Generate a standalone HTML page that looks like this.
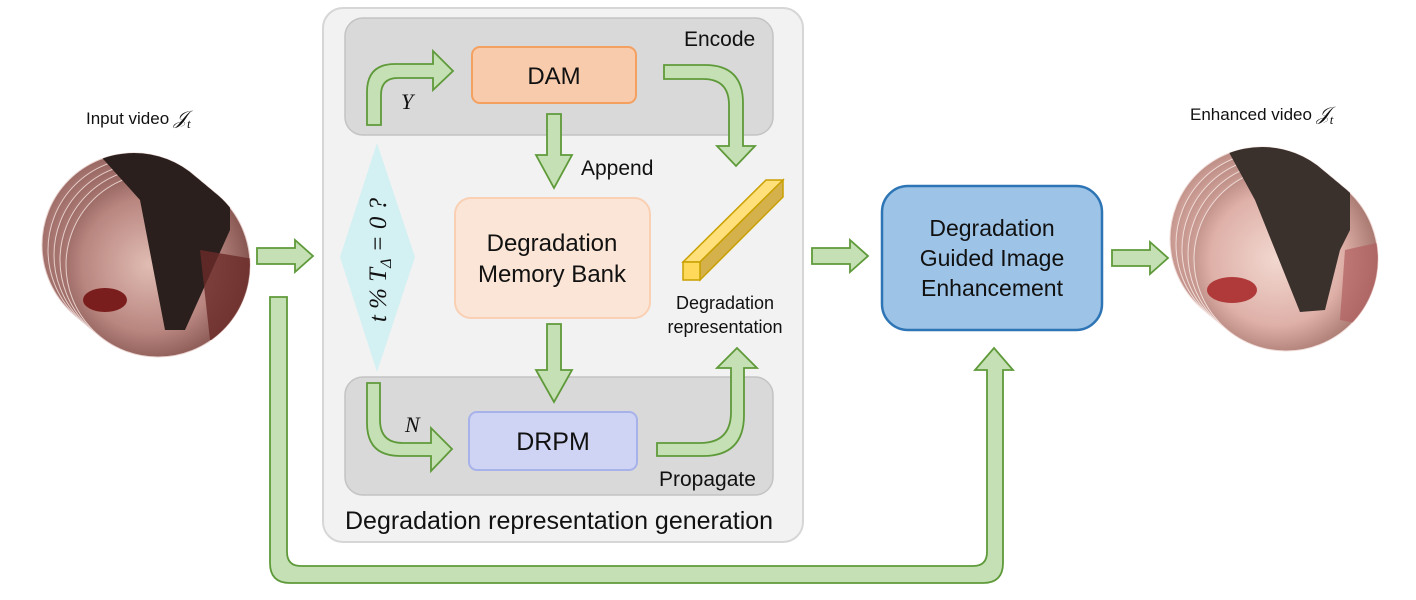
<!DOCTYPE html>
<html><head><meta charset="utf-8"><style>
html,body{margin:0;padding:0;background:#fff;}
svg{display:block;}
text{font-family:"Liberation Sans",sans-serif;fill:#111;}
.m{font-family:"Liberation Serif","DejaVu Serif",serif;font-style:italic;}
</style></head><body>
<svg width="1416" height="600" viewBox="0 0 1416 600" xmlns="http://www.w3.org/2000/svg">
<defs>
<radialGradient id="pk" cx="0.45" cy="0.5" r="0.6">
<stop offset="0" stop-color="#e0bcb2"/><stop offset="0.6" stop-color="#b98680"/><stop offset="1" stop-color="#7a4a45"/>
</radialGradient>
<radialGradient id="pk2" cx="0.45" cy="0.5" r="0.6">
<stop offset="0" stop-color="#f2d8d0"/><stop offset="0.6" stop-color="#deb0a8"/><stop offset="1" stop-color="#9a6a62"/>
</radialGradient>
<clipPath id="c1"><circle cx="134" cy="245" r="92"/><circle cx="140" cy="250" r="92"/><circle cx="146" cy="255" r="92"/><circle cx="152" cy="260" r="92"/><circle cx="158" cy="265" r="92"/></clipPath>
<clipPath id="c2"><circle cx="1262" cy="239" r="92"/><circle cx="1268" cy="244" r="92"/><circle cx="1274" cy="249" r="92"/><circle cx="1280" cy="254" r="92"/><circle cx="1286" cy="259" r="92"/></clipPath>
</defs>

<text x="86" y="124" font-size="17">Input video <tspan class="m" font-size="19">𝒥</tspan><tspan class="m" font-size="13" dy="4">t</tspan></text>
<g>
<circle cx="134" cy="245" r="92" fill="url(#pk)" stroke="#e6cfcc"/>
<circle cx="140" cy="250" r="92" fill="url(#pk)" stroke="#e6cfcc"/>
<circle cx="146" cy="255" r="92" fill="url(#pk)" stroke="#e6cfcc"/>
<circle cx="152" cy="260" r="92" fill="url(#pk)" stroke="#e6cfcc"/>
<circle cx="158" cy="265" r="92" fill="url(#pk)" stroke="#e6cfcc"/>
<g clip-path="url(#c1)">
<polygon points="95,150 230,150 230,230 185,330 165,330 140,200" fill="#2a1f1c"/>
<polygon points="200,250 260,260 260,340 210,340" fill="#6a2a28" opacity="0.8"/>
<ellipse cx="105" cy="300" rx="22" ry="12" fill="#7a1d1d"/>
</g>
</g>

<text x="1190" y="120" font-size="17">Enhanced video <tspan class="m" font-size="19">𝒥</tspan><tspan class="m" font-size="13" dy="4">t</tspan></text>
<g>
<circle cx="1262" cy="239" r="92" fill="url(#pk2)" stroke="#f0dcd8"/>
<circle cx="1268" cy="244" r="92" fill="url(#pk2)" stroke="#f0dcd8"/>
<circle cx="1274" cy="249" r="92" fill="url(#pk2)" stroke="#f0dcd8"/>
<circle cx="1280" cy="254" r="92" fill="url(#pk2)" stroke="#f0dcd8"/>
<circle cx="1286" cy="259" r="92" fill="url(#pk2)" stroke="#f0dcd8"/>
<g clip-path="url(#c2)">
<polygon points="1225,145 1350,145 1350,230 1340,250 1325,310 1300,312 1255,200" fill="#3a302c"/>
<polygon points="1345,250 1390,240 1390,330 1340,320" fill="#b06060" opacity="0.7"/>
<ellipse cx="1232" cy="290" rx="25" ry="13" fill="#b03a3a"/>
</g>
</g>

<rect x="323" y="8" width="480" height="534" rx="20" fill="#f2f2f2" stroke="#d6d6d6" stroke-width="2"/>
<rect x="345" y="18" width="428" height="117" rx="18" fill="#d9d9d9" stroke="#c3c3c3" stroke-width="1.5"/>
<rect x="345" y="377" width="428" height="118" rx="18" fill="#d9d9d9" stroke="#c3c3c3" stroke-width="1.5"/>
<text x="684" y="46" font-size="21">Encode</text>
<text x="659" y="486" font-size="21">Propagate</text>
<text x="345" y="529" font-size="25">Degradation representation generation</text>

<polygon points="377,143 415,257 377,372 340,257" fill="#d3f0f3"/>
<text transform="translate(386,260) rotate(-90)" text-anchor="middle" font-size="25" class="m">t % T<tspan font-size="16" dy="5">Δ</tspan><tspan dy="-5"> = 0 ?</tspan></text>
<text x="401" y="109" font-size="22" class="m">Y</text>
<text x="405" y="432" font-size="22" class="m">N</text>

<rect x="472" y="47" width="164" height="56" rx="8" fill="#f8cbad" stroke="#f4a060" stroke-width="2"/>
<text x="554" y="84" font-size="24" text-anchor="middle">DAM</text>
<rect x="455" y="198" width="195" height="120" rx="16" fill="#fbe5d6" stroke="#f9d0b4" stroke-width="2"/>
<text x="552" y="251" font-size="24" text-anchor="middle">Degradation</text>
<text x="552" y="282" font-size="24" text-anchor="middle">Memory Bank</text>
<rect x="469" y="412" width="168" height="58" rx="8" fill="#d0d4f4" stroke="#a8b2ea" stroke-width="2"/>
<text x="553" y="450" font-size="25" text-anchor="middle">DRPM</text>
<rect x="882" y="186" width="220" height="144" rx="26" fill="#9dc3e6" stroke="#2e75b6" stroke-width="2.5"/>
<text x="992" y="236" font-size="23" text-anchor="middle">Degradation</text>
<text x="992" y="266" font-size="23" text-anchor="middle">Guided Image</text>
<text x="992" y="296" font-size="23" text-anchor="middle">Enhancement</text>

<polygon points="683,262 766,180 783,180 700,262" fill="#ffe07a" stroke="#c9a000" stroke-width="1.5"/>
<polygon points="700,262 783,180 783,197 700,280" fill="#d4b14a" stroke="#c9a000" stroke-width="1.5"/>
<rect x="683" y="262" width="17" height="18" fill="#ffd95a" stroke="#c9a000" stroke-width="1.5"/>
<text x="725" y="309" font-size="18" text-anchor="middle">Degradation</text>
<text x="725" y="333" font-size="18" text-anchor="middle">representation</text>
<text x="581" y="175" font-size="21">Append</text>

<g fill="#c5e0b4" stroke="#5f9a3a" stroke-width="1.8" stroke-linejoin="miter">
<polygon points="257,248 295,248 295,240 313,256 295,272 295,264 257,264"/>
<polygon points="812,248 850,248 850,240 868,256 850,272 850,264 812,264"/>
<polygon points="1112,250 1150,250 1150,242 1168,258 1150,274 1150,266 1112,266"/>
<polygon points="547,114 561,114 561,155 572,155 554,188 536,155 547,155"/>
<polygon points="547,324 561,324 561,370 572,370 554,402 536,370 547,370"/>
<path d="M367,125 L367,92 Q367,64 395,64 L433,64 L433,51 L453,71 L433,90 L433,78 L398,78 Q381,78 381,95 L381,125 Z"/>
<path d="M664,65 L705,65 Q743,65 743,103 L743,146 L755,146 L736,166 L717,146 L729,146 L729,105 Q729,79 703,79 L664,79 Z"/>
<path d="M367,383 L380,383 L380,420 Q380,443 403,443 L431,443 L431,428 L452,449 L431,471 L431,456 L400,456 Q367,456 367,423 Z"/>
<path d="M657,443 L700,443 Q731,443 731,412 L731,368 L717,368 L737,348 L757,368 L744,368 L744,415 Q744,456 703,456 L657,456 Z"/>
<path d="M270,297 L287,297 L287,552 Q287,566 301,566 L973,566 Q987,566 987,552 L987,370 L975,370 L994,348 L1013,370 L1003,370 L1003,563 Q1003,583 983,583 L290,583 Q270,583 270,563 Z"/>
</g>
</svg>
</body></html>
